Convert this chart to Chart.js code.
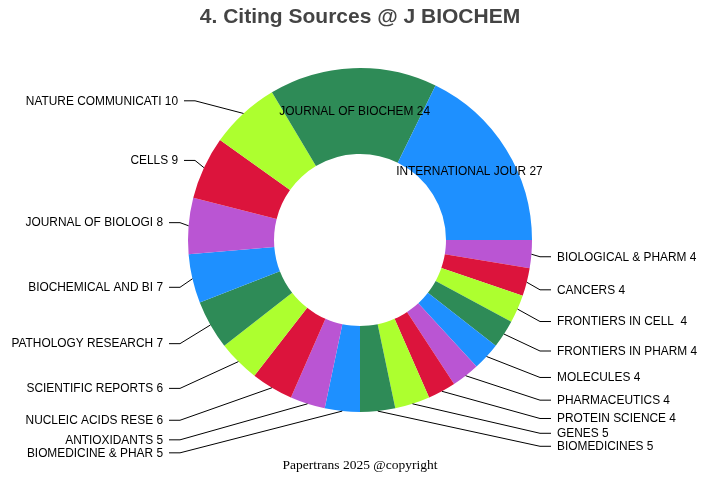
<!DOCTYPE html>
<html>
<head>
<meta charset="utf-8">
<script src="https://cdn.jsdelivr.net/npm/chart.js@4.4.1/dist/chart.umd.min.js"></script>
<style>
html, body { margin: 0; padding: 0; background: #ffffff; }
#wrap { width: 720px; height: 480px; }
</style>
</head>
<body>
<div id="wrap"><canvas id="c" width="720" height="480"></canvas></div>
<script>
// Sources, listed clockwise starting from 3 o'clock
const categories = [
  "BIOLOGICAL & PHARM", "CANCERS", "FRONTIERS IN CELL ", "FRONTIERS IN PHARM",
  "MOLECULES", "PHARMACEUTICS", "PROTEIN SCIENCE", "GENES", "BIOMEDICINES",
  "BIOMEDICINE & PHAR", "ANTIOXIDANTS", "NUCLEIC ACIDS RESE", "SCIENTIFIC REPORTS",
  "PATHOLOGY RESEARCH", "BIOCHEMICAL AND BI", "JOURNAL OF BIOLOGI", "CELLS",
  "NATURE COMMUNICATI", "JOURNAL OF BIOCHEM", "INTERNATIONAL JOUR"
];
const citations = [4, 4, 4, 4, 4, 4, 4, 5, 5, 5, 5, 6, 6, 7, 7, 8, 9, 10, 24, 27];
const palette = ["#BA55D3", "#DC143C", "#ADFF2F", "#2E8B57", "#1E90FF"];
const titleText = "4. Citing Sources @ J BIOCHEM";
const footerText = "Papertrans 2025 @copyright";

const sliceColors = categories.map((_, i) => palette[i % palette.length]);

const labelPlugin = {
  id: 'sliceLabels',
  afterDatasetsDraw(chart, args, o) {
    const ctx = chart.ctx;
    const meta = chart.getDatasetMeta(0);
    const data = chart.data.datasets[0].data;
    const total = data.reduce((a, b) => a + b, 0);
    ctx.save();
    ctx.font = o.font;
    ctx.fillStyle = o.color;
    ctx.strokeStyle = o.lineColor;
    ctx.lineWidth = 1;
    const outside = [];
    meta.data.forEach((arc, i) => {
      const p = arc.getProps(['x', 'y', 'startAngle', 'endAngle', 'outerRadius', 'innerRadius'], true);
      const mid = (p.startAngle + p.endAngle) / 2;
      const text = chart.data.labels[i] + ' ' + data[i];
      if (data[i] / total > o.insideFraction) {
        const t = arc.tooltipPosition(true);
        ctx.textAlign = 'center';
        ctx.textBaseline = 'middle';
        ctx.fillText(text, t.x, t.y + o.textNudge);
        return;
      }
      const c = Math.cos(mid), s = Math.sin(mid);
      const ax = p.x + c * p.outerRadius, ay = p.y + s * p.outerRadius;
      const right = c >= 0;
      const upper = !right && (ay < p.y - o.upperBand);
      const k = right ? o.spreadRight : (upper ? o.spreadUpperLeft : o.spreadLeft);
      outside.push({ text, ax, ay, right, upper, s, cx: p.x, cy: p.y, R: p.outerRadius, ty: p.y + k * (ay - p.y) });
    });
    [true, false].forEach(side => {
      const g = outside.filter(d => d.right === side);
      const below = g.filter(d => d.s >= 0).sort((a, b) => a.ty - b.ty);
      for (let j = 1; j < below.length; j++) {
        if (below[j].ty - below[j - 1].ty < o.minGap) below[j].ty = below[j - 1].ty + o.minGap;
      }
      const above = g.filter(d => d.s < 0).sort((a, b) => b.ty - a.ty);
      for (let j = 1; j < above.length; j++) {
        if (above[j - 1].ty - above[j].ty < o.minGap) above[j].ty = above[j - 1].ty - o.minGap;
      }
    });
    outside.forEach(d => {
      const gap = d.upper ? o.nearGap : o.farGap;
      const tx = d.right ? d.cx + d.R + gap : d.cx - d.R - gap;
      const ls = d.right ? tx - o.lineGap : tx + o.lineGap;
      const el = d.right ? tx - o.elbow : tx + o.elbow;
      ctx.beginPath();
      ctx.moveTo(ls, d.ty);
      ctx.lineTo(el, d.ty);
      ctx.lineTo(d.ax, d.ay);
      ctx.stroke();
      ctx.textAlign = d.right ? 'left' : 'right';
      ctx.textBaseline = 'middle';
      ctx.fillText(d.text, tx, d.ty + o.textNudge);
    });
    ctx.restore();
  }
};

new Chart(document.getElementById('c'), {
  type: 'doughnut',
  data: {
    labels: categories,
    datasets: [{
      data: citations,
      backgroundColor: sliceColors,
      borderWidth: 0,
      hoverOffset: 0
    }]
  },
  options: {
    responsive: false,
    devicePixelRatio: 1,
    animation: false,
    events: [],
    rotation: 90,
    cutout: '50%',
    layout: { padding: 0 },
    plugins: {
      legend: { display: false },
      tooltip: { enabled: false },
      title: {
        display: true,
        text: titleText,
        color: '#444444',
        font: { family: "'Liberation Sans', Arial, sans-serif", size: 21, weight: 'bold', lineHeight: 1.2 },
        padding: { top: 5, bottom: 37.8 }
      },
      subtitle: {
        display: true,
        position: 'bottom',
        text: footerText,
        color: '#000000',
        font: { family: "'Liberation Serif', 'Times New Roman', serif", size: 13.5, weight: 'normal', lineHeight: 1.2 },
        padding: { top: 45.5, bottom: 6.3 }
      },
      sliceLabels: {
        font: "11.9px 'Liberation Sans', Arial, sans-serif",
        color: '#000000',
        lineColor: '#000000',
        insideFraction: 0.1,
        upperBand: 30,
        spreadRight: 1.18,
        spreadLeft: 1.22,
        spreadUpperLeft: 1.1,
        minGap: 13,
        farGap: 25,
        nearGap: 10,
        lineGap: 6,
        elbow: 17,
        textNudge: 0.5
      }
    }
  },
  plugins: [labelPlugin]
});
</script>
</body>
</html>
